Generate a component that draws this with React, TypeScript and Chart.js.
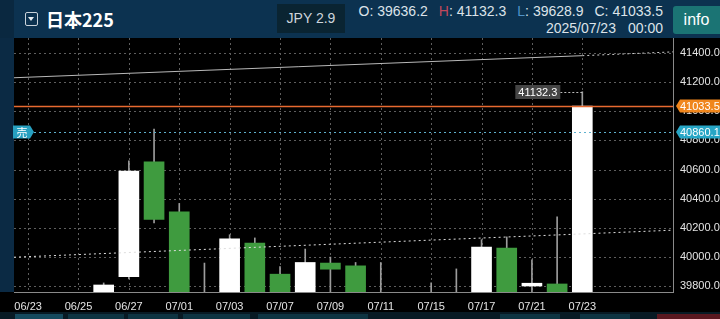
import React, { useEffect, useRef } from "react";
import { Chart, registerables } from "chart.js";

Chart.register(...registerables);

// ---- data ----
const dates = ["06/23", "06/24", "06/25", "06/26", "06/27", "06/30", "07/01", "07/02", "07/03", "07/04", "07/07", "07/08", "07/09", "07/10", "07/11", "07/14", "07/15", "07/16", "07/17", "07/18", "07/21", "07/22", "07/23"];
const opens = [39300, 39400, 39650, 39600, 39867, 40652, 40311, 39700, 39700, 40097, 39884, 39700, 39960, 39941, 39700, 39550, 39500, 39650, 39700, 40063, 39803, 39817, 39636.2];
const highs = [39500, 39700, 39740, 39824, 40659, 40877, 40368, 39960, 40154, 40132, 39936, 40056, 40001, 39964, 39964, 39700, 39824, 39920, 40120, 40139, 39982, 40276, 41132.3];
const lows = [39100, 39350, 39500, 39550, 39852, 40235, 39650, 39500, 39680, 39700, 39650, 39650, 39700, 39650, 39550, 39400, 39450, 39550, 39680, 39650, 39700, 39600, 39628.9];
const closes = [39400, 39650, 39600, 39810, 40590, 40258, 39700, 39600, 40125, 39750, 39700, 39964, 39918, 39700, 39600, 39500, 39650, 39700, 40070, 39700, 39822, 39650, 41033.5];

const yTicks = [39800, 40000, 40200, 40400, 40600, 40800, 41000, 41200, 41400];
const xTickIdx = [0, 2, 4, 6, 8, 10, 12, 14, 16, 18, 20, 22];
const yMin = 39762;
const yMax = 41500;
const xMin = -0.56;
const xMax = 25.6;

const upperTrendX = [-0.56, 22];
const upperTrendY = [41228, 41379];
const upperExtX = [22, 25.6];
const upperExtY = [41379, 41405];
const lowerTrendX = [-0.56, 25.6];
const lowerTrendY = [40000, 40185];

const lastPrice = 41033.5;
const sellPrice = 40860.1;
const highIdx = 22;

const UP = "#ffffff";
const DOWN = "#3f9b3f";
const WICK = "#9c9c9c";
const GRID = "#5e5e5e";
const FONT = "'Liberation Sans', Arial, sans-serif";

function tagShape(ctx: CanvasRenderingContext2D, x0: number, x1: number, y: number, h: number, tipLeft: boolean) {
  ctx.beginPath();
  if (tipLeft) {
    ctx.moveTo(x0, y);
    ctx.lineTo(x0 + 4, y - h / 2);
    ctx.lineTo(x1, y - h / 2);
    ctx.lineTo(x1, y + h / 2);
    ctx.lineTo(x0 + 4, y + h / 2);
  } else {
    ctx.moveTo(x0, y - h / 2);
    ctx.lineTo(x1 - 4, y - h / 2);
    ctx.lineTo(x1, y);
    ctx.lineTo(x1 - 4, y + h / 2);
    ctx.lineTo(x0, y + h / 2);
  }
  ctx.closePath();
  ctx.fill();
}

const decor = {
  id: "decor",
  beforeDraw(chart: any) {
    const { ctx, width, height, chartArea: ca } = chart;
    ctx.save();
    ctx.fillStyle = "#000";
    ctx.fillRect(0, 0, width, height);
    ctx.fillStyle = "#0b2a44";
    ctx.fillRect(0, ca.top, ca.left, ca.bottom - ca.top);
    // bottom tab band
    ctx.fillStyle = "#081a24";
    ctx.fillRect(0, 312, width, height - 312);
    const blocks: [number, number, string][] = [
      [15, 63, "#164a5e"], [68, 124, "#0e3442"], [128, 178, "#0e3442"], [183, 250, "#0e3442"],
      [258, 368, "#0e3442"], [500, 560, "#0e3442"], [580, 630, "#0e3442"], [657, 720, "#5a1820"],
    ];
    blocks.forEach(([a, b, c]) => {
      ctx.fillStyle = c;
      ctx.fillRect(a, 314, b - a, height - 314);
    });
    ctx.restore();
  },
  beforeDatasetsDraw(chart: any) {
    const { ctx, chartArea: ca, scales } = chart;
    ctx.save();
    ctx.strokeStyle = GRID;
    ctx.lineWidth = 1;
    ctx.setLineDash([2, 3]);
    yTicks.forEach((v) => {
      const y = Math.round(scales.y.getPixelForValue(v)) + 0.5;
      ctx.beginPath();
      ctx.moveTo(ca.left, y);
      ctx.lineTo(ca.right, y);
      ctx.stroke();
    });
    xTickIdx.forEach((v) => {
      const x = Math.round(scales.x.getPixelForValue(v)) + 0.5;
      ctx.beginPath();
      ctx.moveTo(x, ca.top);
      ctx.lineTo(x, ca.bottom);
      ctx.stroke();
    });
    ctx.restore();
  },
  afterDraw(chart: any) {
    const { ctx, chartArea: ca, scales } = chart;
    const ys = scales.y;
    const xs = scales.x;
    ctx.save();
    // last price line
    const yl = Math.round(ys.getPixelForValue(lastPrice)) + 0.5;
    ctx.strokeStyle = "#e86a30";
    ctx.lineWidth = 1.3;
    ctx.beginPath();
    ctx.moveTo(ca.left, yl);
    ctx.lineTo(ca.right, yl);
    ctx.stroke();
    ctx.lineWidth = 1;
    // sell price line
    const ysl = Math.round(ys.getPixelForValue(sellPrice)) + 0.5;
    ctx.strokeStyle = "#5fb0cc";
    ctx.setLineDash([2, 3]);
    ctx.beginPath();
    ctx.moveTo(ca.left, ysl);
    ctx.lineTo(ca.right, ysl);
    ctx.stroke();
    ctx.setLineDash([]);

    // high label
    const xh = xs.getPixelForValue(highIdx);
    const yh = Math.round(ys.getPixelForValue(highs[highIdx])) + 0.5;
    ctx.strokeStyle = "#bbbbbb";
    ctx.setLineDash([2, 2]);
    ctx.beginPath();
    ctx.moveTo(xh - 22, yh);
    ctx.lineTo(xh, yh);
    ctx.stroke();
    ctx.setLineDash([]);
    ctx.fillStyle = "#454545";
    ctx.fillRect(xh - 67, yh - 7.5, 45, 14);
    ctx.fillStyle = "#ffffff";
    ctx.font = `11px ${FONT}`;
    ctx.textAlign = "center";
    ctx.textBaseline = "middle";
    ctx.fillText(highs[highIdx].toFixed(1), xh - 44.5, yh);

    // right tags
    ctx.textAlign = "left";
    ctx.fillStyle = "#f0861c";
    tagShape(ctx, ca.right + 3, 722, yl - 0.5, 13, true);
    ctx.fillStyle = "#ffffff";
    ctx.fillText(lastPrice.toFixed(1), ca.right + 7, yl);
    ctx.fillStyle = "#27a6c6";
    tagShape(ctx, ca.right + 3, 722, ysl - 0.5, 13, true);
    ctx.fillStyle = "#ffffff";
    ctx.fillText(sellPrice.toFixed(1), ca.right + 7, ysl);

    // left 売 tag
    ctx.fillStyle = "#27a0c0";
    tagShape(ctx, ca.left - 1, ca.left + 20, ysl - 0.5, 13, false);
    ctx.fillStyle = "#ffffff";
    ctx.font = `11px 'Noto Sans CJK JP', sans-serif`;
    ctx.textAlign = "center";
    ctx.fillText("売", ca.left + 8, ysl);
    ctx.restore();
  },
};

export default function App() {
  const ref = useRef<HTMLCanvasElement | null>(null);

  useEffect(() => {
    document.body.style.margin = "0";
    document.body.style.background = "#000";
    if (!ref.current) return;
    const bodies = dates.map((_, i) => ({ x: i, y: [opens[i], closes[i]] }));
    const wicks = dates.map((_, i) => ({ x: i, y: [lows[i], highs[i]] }));
    const bodyColors = dates.map((_, i) => (closes[i] >= opens[i] ? UP : DOWN));

    const chart = new Chart(ref.current, {
      type: "bar",
      data: {
        datasets: [
          {
            type: "line",
            data: upperTrendX.map((x, i) => ({ x, y: upperTrendY[i] })),
            borderColor: "#b8b8b8",
            borderWidth: 1,
            pointRadius: 0,
            order: 1,
          } as any,
          {
            type: "line",
            data: upperExtX.map((x, i) => ({ x, y: upperExtY[i] })),
            borderColor: "#cfcfcf",
            borderWidth: 1,
            borderDash: [2, 3],
            pointRadius: 0,
            order: 1,
          } as any,
          {
            type: "line",
            data: lowerTrendX.map((x, i) => ({ x, y: lowerTrendY[i] })),
            borderColor: "#dedede",
            borderWidth: 1,
            borderDash: [2, 3],
            pointRadius: 0,
            order: 1,
          } as any,
          {
            type: "bar",
            data: bodies as any,
            backgroundColor: bodyColors,
            borderWidth: 0,
            barThickness: 20,
            grouped: false,
            order: 2,
          } as any,
          {
            type: "bar",
            data: wicks as any,
            backgroundColor: WICK,
            borderWidth: 0,
            barThickness: 1,
            grouped: false,
            order: 3,
          } as any,
        ],
      },
      options: {
        animation: false,
        responsive: false,
        devicePixelRatio: 1,
        layout: { padding: { top: 38, left: 14, right: 0, bottom: 7 } },
        plugins: { legend: { display: false }, tooltip: { enabled: false } },
        scales: {
          x: {
            type: "linear",
            min: xMin,
            max: xMax,
            offset: false,
            afterBuildTicks: (s: any) => {
              s.ticks = xTickIdx.map((v) => ({ value: v }));
            },
            afterFit: (s: any) => {
              s.height = 20;
            },
            ticks: {
              autoSkip: false,
              maxRotation: 0,
              padding: 8,
              color: "#e4e4e4",
              font: { size: 11, family: FONT },
              callback: (v: any) => dates[Number(v)] ?? "",
            },
            grid: { display: false, drawTicks: false, offset: false },
            border: { display: true, color: "#8a8a8a" },
          },
          y: {
            type: "linear",
            position: "right",
            min: yMin,
            max: yMax,
            afterBuildTicks: (s: any) => {
              s.ticks = yTicks.map((v) => ({ value: v }));
            },
            afterFit: (s: any) => {
              s.width = 47;
            },
            ticks: {
              padding: 7,
              color: "#e4e4e4",
              font: { size: 11, family: FONT },
              callback: (v: any) => Number(v).toFixed(1),
            },
            grid: { display: false, drawTicks: false },
            border: { display: true, color: "#8a8a8a" },
          },
        },
      } as any,
      plugins: [decor],
    });
    return () => chart.destroy();
  }, []);

  return (
    <div style={{ position: "absolute", left: 0, top: 0, width: 720, height: 319, overflow: "hidden", background: "#000" }}>
      <canvas ref={ref} width={720} height={319} style={{ position: "absolute", left: 0, top: 0, width: 720, height: 319 }} />
      <div style={{ position: "absolute", left: 0, top: 0, width: 720, height: 38, background: "#0c3250", fontFamily: FONT }}>
        <div style={{ position: "absolute", left: 0, top: 0, width: 14, height: 38, background: "#0a2840" }} />
        <div style={{ position: "absolute", left: 25, top: 12, width: 11, height: 12, border: "1.5px solid #c9d2da", borderRadius: 2 }}>
          <div style={{ position: "absolute", left: 2, top: 4, width: 0, height: 0, borderLeft: "3.5px solid transparent", borderRight: "3.5px solid transparent", borderTop: "4px solid #e6ecf0" }} />
        </div>
        <div style={{ position: "absolute", left: 46, top: 6, color: "#ffffff", fontSize: 18, fontWeight: 700, fontFamily: "'Noto Sans CJK JP', 'Noto Sans', sans-serif", lineHeight: "26px" }}>
          日本225
        </div>
        <div style={{ position: "absolute", left: 277, top: 4, width: 68, height: 29, background: "#0a2432", color: "#cdd5dc", fontSize: 14, lineHeight: "29px", textAlign: "center" }}>
          JPY 2.9
        </div>
        <div style={{ position: "absolute", right: 57, top: 3, color: "#dce3e9", fontSize: 14, lineHeight: "17px", whiteSpace: "pre", textAlign: "right" }}>
          <span>O: 39636.2</span>
          <span style={{ marginLeft: 11 }}><span style={{ color: "#c2485c" }}>H</span>: 41132.3</span>
          <span style={{ marginLeft: 11 }}><span style={{ color: "#4f92c8" }}>L</span>: 39628.9</span>
          <span style={{ marginLeft: 11 }}>C: 41033.5</span>
        </div>
        <div style={{ position: "absolute", right: 57, top: 20, color: "#dce3e9", fontSize: 14, lineHeight: "17px", whiteSpace: "pre", textAlign: "right" }}>
          <span>2025/07/23</span>
          <span style={{ marginLeft: 12 }}>00:00</span>
        </div>
        <div style={{ position: "absolute", left: 673, top: 6, width: 47, height: 28, background: "#1b7474", borderRadius: "3px 0 0 3px", color: "#ffffff", fontSize: 16, lineHeight: "28px", textAlign: "center" }}>
          info
        </div>
      </div>
    </div>
  );
}
